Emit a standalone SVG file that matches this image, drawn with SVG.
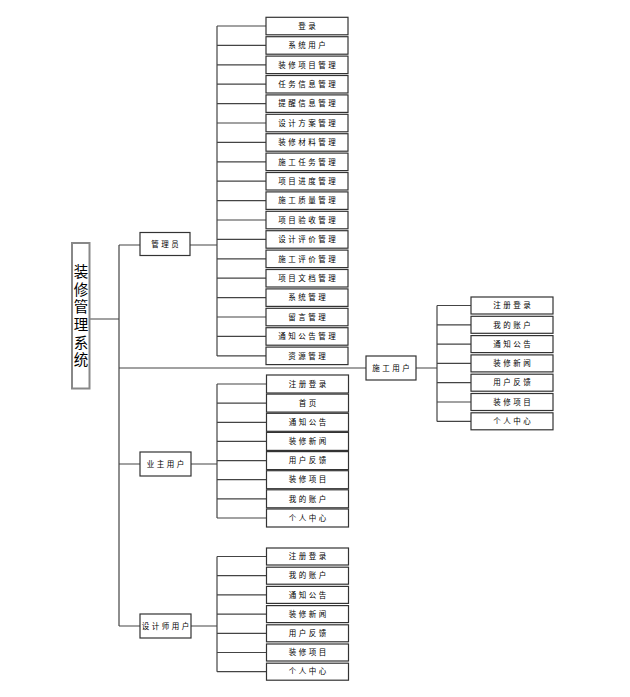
<svg xmlns="http://www.w3.org/2000/svg" width="630" height="697" viewBox="0 0 630 697">
<style>
.b{fill:#fff;stroke:#333;stroke-width:1.2}
.t{font-family:"Noto Sans CJK SC","Noto Sans CJK JP",sans-serif;font-size:7.5px;fill:#000;text-anchor:middle;letter-spacing:2.5px}
.r{font-family:"Noto Sans CJK SC","Noto Sans CJK JP",sans-serif;font-size:14.5px;fill:#000;writing-mode:vertical-rl;letter-spacing:3.1px}
.c path{fill:none;stroke:#444;stroke-width:1.2}
</style>
<rect width="630" height="697" fill="#fff"/>
<g class="c" id="connectors">
<path d="M89 319H119M119 245V626M119 245H140M119 368H366M119 464H140M119 626H140"/>
<path d="M190 245H217M217 26V356M217 26H266M217 45.4H266M217 64.8H266M217 84.2H266M217 103.6H266M217 123H266M217 142.4H266M217 161.8H266M217 181.2H266M217 200.6H266M217 220H266M217 239.4H266M217 258.8H266M217 278.2H266M217 297.6H266M217 317H266M217 336.4H266M217 355.8H266"/>
<path d="M416 368H437M437 305.5V421.5M437 305.5H471M437 324.8H471M437 344.1H471M437 363.4H471M437 382.7H471M437 402H471M437 421.3H471"/>
<path d="M191 464H217M217 384V518M217 384H266M217 403.1H266M217 422.3H266M217 441.4H266M217 460.6H266M217 479.7H266M217 498.8H266M217 518H266"/>
<path d="M191 626H217M217 556.5V671.7M217 556.5H266M217 575.7H266M217 594.9H266M217 614.1H266M217 633.3H266M217 652.5H266M217 671.7H266"/>
</g>
<g id="root"><rect x="72" y="243" width="17.5" height="145.5" fill="#fff" stroke="#888" stroke-width="2"/>
<text class="r" x="81" y="264.5">装修管理系统</text></g>
<g id="admin"><rect class="b" x="140" y="232.5" width="50" height="23"/><text class="t" x="166.2" y="247">管理员</text></g>
<g id="worker"><rect class="b" x="366" y="356" width="50" height="24"/><text class="t" x="392.2" y="371">施工用户</text></g>
<g id="owner"><rect class="b" x="140" y="452" width="51" height="24"/><text class="t" x="166.7" y="467">业主用户</text></g>
<g id="designer"><rect class="b" x="140" y="614" width="51" height="24"/><text class="t" x="166.7" y="629">设计师用户</text></g>
<g id="a1"><rect class="b" x="266" y="17.3" width="82" height="17.5"/><text class="t" x="308.2" y="28.7">登录</text></g>
<g id="a2"><rect class="b" x="266" y="36.7" width="82" height="17.5"/><text class="t" x="308.2" y="48.1">系统用户</text></g>
<g id="a3"><rect class="b" x="266" y="56.1" width="82" height="17.5"/><text class="t" x="308.2" y="67.5">装修项目管理</text></g>
<g id="a4"><rect class="b" x="266" y="75.5" width="82" height="17.5"/><text class="t" x="308.2" y="86.9">任务信息管理</text></g>
<g id="a5"><rect class="b" x="266" y="94.9" width="82" height="17.5"/><text class="t" x="308.2" y="106.3">提醒信息管理</text></g>
<g id="a6"><rect class="b" x="266" y="114.3" width="82" height="17.5"/><text class="t" x="308.2" y="125.7">设计方案管理</text></g>
<g id="a7"><rect class="b" x="266" y="133.7" width="82" height="17.5"/><text class="t" x="308.2" y="145.1">装修材料管理</text></g>
<g id="a8"><rect class="b" x="266" y="153.1" width="82" height="17.5"/><text class="t" x="308.2" y="164.5">施工任务管理</text></g>
<g id="a9"><rect class="b" x="266" y="172.5" width="82" height="17.5"/><text class="t" x="308.2" y="183.9">项目进度管理</text></g>
<g id="a10"><rect class="b" x="266" y="191.9" width="82" height="17.5"/><text class="t" x="308.2" y="203.3">施工质量管理</text></g>
<g id="a11"><rect class="b" x="266" y="211.3" width="82" height="17.5"/><text class="t" x="308.2" y="222.7">项目验收管理</text></g>
<g id="a12"><rect class="b" x="266" y="230.7" width="82" height="17.5"/><text class="t" x="308.2" y="242.1">设计评价管理</text></g>
<g id="a13"><rect class="b" x="266" y="250.1" width="82" height="17.5"/><text class="t" x="308.2" y="261.5">施工评价管理</text></g>
<g id="a14"><rect class="b" x="266" y="269.5" width="82" height="17.5"/><text class="t" x="308.2" y="280.9">项目文档管理</text></g>
<g id="a15"><rect class="b" x="266" y="288.9" width="82" height="17.5"/><text class="t" x="308.2" y="300.3">系统管理</text></g>
<g id="a16"><rect class="b" x="266" y="308.3" width="82" height="17.5"/><text class="t" x="308.2" y="319.7">留言管理</text></g>
<g id="a17"><rect class="b" x="266" y="327.7" width="82" height="17.5"/><text class="t" x="308.2" y="339.1">通知公告管理</text></g>
<g id="a18"><rect class="b" x="266" y="347.1" width="82" height="17.5"/><text class="t" x="308.2" y="358.5">资源管理</text></g>
<g id="w1"><rect class="b" x="471" y="297" width="82" height="17"/><text class="t" x="513.2" y="308.2">注册登录</text></g>
<g id="w2"><rect class="b" x="471" y="316.3" width="82" height="17"/><text class="t" x="513.2" y="327.5">我的账户</text></g>
<g id="w3"><rect class="b" x="471" y="335.6" width="82" height="17"/><text class="t" x="513.2" y="346.8">通知公告</text></g>
<g id="w4"><rect class="b" x="471" y="354.9" width="82" height="17"/><text class="t" x="513.2" y="366.1">装修新闻</text></g>
<g id="w5"><rect class="b" x="471" y="374.2" width="82" height="17"/><text class="t" x="513.2" y="385.4">用户反馈</text></g>
<g id="w6"><rect class="b" x="471" y="393.5" width="82" height="17"/><text class="t" x="513.2" y="404.7">装修项目</text></g>
<g id="w7"><rect class="b" x="471" y="412.8" width="82" height="17"/><text class="t" x="513.2" y="424">个人中心</text></g>
<g id="o1"><rect class="b" x="266.5" y="375" width="82" height="18"/><text class="t" x="308.7" y="386.7">注册登录</text></g>
<g id="o2"><rect class="b" x="266.5" y="394.1" width="82" height="18"/><text class="t" x="308.7" y="405.8">首页</text></g>
<g id="o3"><rect class="b" x="266.5" y="413.3" width="82" height="18"/><text class="t" x="308.7" y="425">通知公告</text></g>
<g id="o4"><rect class="b" x="266.5" y="432.4" width="82" height="18"/><text class="t" x="308.7" y="444.1">装修新闻</text></g>
<g id="o5"><rect class="b" x="266.5" y="451.6" width="82" height="18"/><text class="t" x="308.7" y="463.3">用户反馈</text></g>
<g id="o6"><rect class="b" x="266.5" y="470.7" width="82" height="18"/><text class="t" x="308.7" y="482.4">装修项目</text></g>
<g id="o7"><rect class="b" x="266.5" y="489.8" width="82" height="18"/><text class="t" x="308.7" y="501.5">我的账户</text></g>
<g id="o8"><rect class="b" x="266.5" y="509" width="82" height="18"/><text class="t" x="308.7" y="520.7">个人中心</text></g>
<g id="d1"><rect class="b" x="266.5" y="548" width="82" height="17"/><text class="t" x="308.7" y="559.2">注册登录</text></g>
<g id="d2"><rect class="b" x="266.5" y="567.2" width="82" height="17"/><text class="t" x="308.7" y="578.4">我的账户</text></g>
<g id="d3"><rect class="b" x="266.5" y="586.4" width="82" height="17"/><text class="t" x="308.7" y="597.6">通知公告</text></g>
<g id="d4"><rect class="b" x="266.5" y="605.6" width="82" height="17"/><text class="t" x="308.7" y="616.8">装修新闻</text></g>
<g id="d5"><rect class="b" x="266.5" y="624.8" width="82" height="17"/><text class="t" x="308.7" y="636">用户反馈</text></g>
<g id="d6"><rect class="b" x="266.5" y="644" width="82" height="17"/><text class="t" x="308.7" y="655.2">装修项目</text></g>
<g id="d7"><rect class="b" x="266.5" y="663.2" width="82" height="17"/><text class="t" x="308.7" y="674.4">个人中心</text></g>
</svg>
